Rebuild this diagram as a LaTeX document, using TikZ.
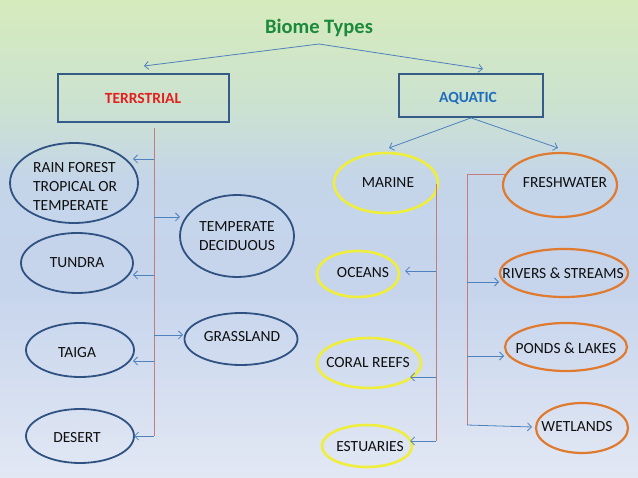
\documentclass[tikz,border=0pt]{standalone}
\usepackage{fontspec}
\setmainfont{Carlito}
\usetikzlibrary{arrows.meta,shapes.geometric}
\definecolor{bgtop}{RGB}{214,235,188}
\definecolor{bggt}{RGB}{204,226,208}
\definecolor{bgmid}{RGB}{196,213,234}
\definecolor{bgmid2}{RGB}{198,212,236}
\definecolor{bgbot}{RGB}{226,232,244}
\definecolor{titlegreen}{RGB}{27,138,58}
\definecolor{terred}{RGB}{226,32,30}
\definecolor{aqblue}{RGB}{31,110,190}
\definecolor{boxblue}{RGB}{52,92,134}
\definecolor{ellblue}{RGB}{47,82,130}
\definecolor{ellyellow}{RGB}{240,238,60}
\definecolor{ellorange}{RGB}{224,122,46}
\definecolor{arrblue}{RGB}{79,129,189}
\definecolor{trunkred}{RGB}{196,124,124}
\definecolor{txt}{RGB}{15,15,15}
\pgfdeclareverticalshading{bgshade}{100bp}{color(0bp)=(bgbot); color(25bp)=(bgbot); color(45bp)=(bgmid2); color(56bp)=(bgmid); color(64bp)=(bggt); color(75bp)=(bgtop); color(100bp)=(bgtop)}
\begin{document}
\begin{tikzpicture}[x=1pt,y=-1pt,
  lab/.style={inner sep=0pt, text=txt, font=\fontsize{15.5}{19}\selectfont},
  ell/.style={ellipse, draw, inner sep=0pt},
  eb/.style={ell, draw=ellblue, line width=1.8pt},
  ey/.style={ell, draw=ellyellow, line width=2.6pt},
  eo/.style={ell, draw=ellorange, line width=2.2pt},
  catbox/.style={draw=boxblue, line width=1.8pt, inner sep=0pt},
  arr/.style={draw=arrblue, line width=0.8pt, -{Straight Barb[length=4pt,width=8pt]}},
  trunk/.style={draw=trunkred, line width=0.8pt}]
\useasboundingbox (0,0) rectangle (638,478);
\path[shading=bgshade] (0,0) rectangle (638,478);

% title and categories
\node[inner sep=0pt, text=titlegreen, font=\fontsize{20.5}{24}\selectfont\bfseries] (title) at (319,28) {Biome Types};
\node[catbox, minimum width=171pt, minimum height=48pt] (ter) at (143.5,98) {};
\node[inner sep=0pt, text=terred, font=\fontsize{15.5}{19}\selectfont\bfseries] (ter-t) at (143,98) {TERRSTRIAL};
\node[catbox, minimum width=144pt, minimum height=43pt] (aq) at (471,95.5) {};
\node[inner sep=0pt, text=aqblue, font=\fontsize{15.5}{19}\selectfont\bfseries] (aq-t) at (468,98) {AQUATIC};

\coordinate (apex) at (319,44);
\coordinate (ter-in) at (144,66);
\coordinate (aq-in) at (483,69);
\draw[arr] (apex) -- (ter-in);
\draw[arr] (apex) -- (aq-in);

% terrestrial ellipses
\node[eb, minimum width=128pt, minimum height=80pt] (rf) at (74,183) {};
\node[lab, anchor=west, align=left] (rf-t) at (33,186) {RAIN FOREST\\TROPICAL OR\\TEMPERATE};
\node[eb, minimum width=112pt, minimum height=60pt] (tu) at (77,263) {};
\node[lab] (tu-t) at (77,263) {TUNDRA};
\node[eb, minimum width=108pt, minimum height=54pt] (ta) at (80,350) {};
\node[lab] (ta-t) at (77,353) {TAIGA};
\node[eb, minimum width=108pt, minimum height=54pt] (de) at (80,436) {};
\node[lab] (de-t) at (77,438) {DESERT};
\node[eb, minimum width=114pt, minimum height=82pt] (td) at (237,236) {};
\node[lab, align=center] (td-t) at (237,236) {TEMPERATE\\DECIDUOUS};
\node[eb, minimum width=113pt, minimum height=52pt] (gr) at (241,339) {};
\node[lab] (gr-t) at (242,337) {GRASSLAND};

% terrestrial trunk
\coordinate (tl-top) at (154,128);
\coordinate (tl-rf) at (154,159);
\coordinate (tl-td) at (154,217);
\coordinate (tl-tu) at (154,275);
\coordinate (tl-gr) at (154,335);
\coordinate (tl-ta) at (154,361);
\coordinate (tl-de) at (154,436);
\coordinate (rf-in) at (133,159);
\coordinate (td-in) at (180,217);
\coordinate (tu-in) at (133,275);
\coordinate (gr-in) at (183,335);
\coordinate (ta-in) at (133,361);
\coordinate (de-in) at (134,436);
\draw[trunk] (tl-top) -- (tl-de);
\draw[arr] (tl-rf) -- (rf-in);
\draw[arr] (tl-td) -- (td-in);
\draw[arr] (tl-tu) -- (tu-in);
\draw[arr] (tl-gr) -- (gr-in);
\draw[arr] (tl-ta) -- (ta-in);
\draw[arr] (tl-de) -- (de-in);

% aquatic ellipses
\node[ey, minimum width=104pt, minimum height=60pt] (ma) at (386,183) {};
\node[lab] (ma-t) at (388,183) {MARINE};
\node[ey, minimum width=82pt, minimum height=46pt] (oc) at (358,274) {};
\node[lab] (oc-t) at (363,273) {OCEANS};
\node[ey, minimum width=104pt, minimum height=50pt] (cr) at (369,363) {};
\node[lab] (cr-t) at (368,363) {CORAL REEFS};
\node[ey, minimum width=90pt, minimum height=42pt] (es) at (367,446) {};
\node[lab] (es-t) at (370,447) {ESTUARIES};
\node[eo, minimum width=114pt, minimum height=64pt] (fw) at (560,185) {};
\node[lab] (fw-t) at (565,183) {FRESHWATER};
\node[eo, minimum width=128pt, minimum height=48pt] (rs) at (564,273) {};
\node[lab] (rs-t) at (563,273) {RIVERS \& STREAMS};
\node[eo, minimum width=122pt, minimum height=48pt] (pl) at (566,347) {};
\node[lab] (pl-t) at (566,348) {PONDS \& LAKES};
\node[eo, minimum width=92pt, minimum height=50pt] (we) at (582,428) {};
\node[lab] (we-t) at (577,427) {WETLANDS};

\coordinate (ma-in) at (389,148);
\coordinate (fw-in) at (558,148);
\draw[arr] (aq.south) -- (ma-in);
\draw[arr] (aq.south) -- (fw-in);

% marine trunk
\coordinate (mt-top) at (436,184);
\coordinate (mt-oc) at (436,271);
\coordinate (mt-cr) at (436,377);
\coordinate (mt-es) at (436,441);
\coordinate (oc-in) at (405,271);
\coordinate (cr-in) at (410,377);
\coordinate (es-in) at (410,441);
\draw[trunk] (mt-top) -- (mt-es);
\draw[arr] (mt-oc) -- (oc-in);
\draw[arr] (mt-cr) -- (cr-in);
\draw[arr] (mt-es) -- (es-in);

% freshwater trunk
\coordinate (ft-start) at (505,174);
\coordinate (ft-top) at (467,174);
\coordinate (ft-rs) at (467,282);
\coordinate (ft-pl) at (467,356);
\coordinate (ft-we) at (467,425);
\coordinate (rs-in) at (499,282);
\coordinate (pl-in) at (504,356);
\coordinate (we-in) at (532,427);
\draw[trunk] (ft-start) -- (ft-top) -- (ft-we);
\draw[arr] (ft-rs) -- (rs-in);
\draw[arr] (ft-pl) -- (pl-in);
\draw[arr] (ft-we) -- (we-in);
\end{tikzpicture}
\end{document}
